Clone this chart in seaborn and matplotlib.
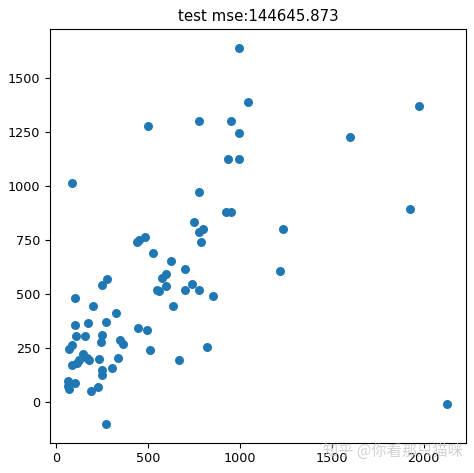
import numpy as np
import pandas as pd
import matplotlib.pyplot as plt
import seaborn as sns

# predictions vs. targets
y_true = [997, 1043, 1975, 500, 776, 950, 997, 1598, 937, 997,
          85, 776, 1924, 927, 950, 749, 800, 1237, 778, 788,
          443, 450, 482, 525, 623, 702, 599, 575, 1217, 277,
          249, 741, 600, 552, 562, 702, 779, 852, 102, 199,
          637, 326, 102, 176, 272, 446, 493, 108, 160, 248,
          243, 350, 365, 88, 72, 823, 511, 149, 168, 178,
          127, 113, 85, 236, 339, 671, 303, 249, 249, 67,
          103, 67, 72, 230, 189, 272, 2129]
y_pred = [1642, 1389, 1372, 1281, 1302, 1302, 1245, 1229, 1127, 1125,
          1015, 975, 895, 879, 879, 836, 800, 802, 788, 742,
          740, 752, 763, 692, 654, 617, 593, 574, 609, 569,
          543, 547, 537, 518, 514, 518, 518, 492, 481, 447,
          447, 414, 357, 366, 372, 344, 335, 307, 307, 313,
          278, 290, 268, 265, 245, 256, 244, 223, 205, 198,
          195, 180, 174, 200, 207, 194, 157, 148, 128, 98,
          91, 75, 60, 70, 54, -100, -6]
mse_text = "test mse:144645.873"

df = pd.DataFrame({"true": y_true, "pred": y_pred})

fig, ax = plt.subplots(figsize=(4.74, 4.73), dpi=100)
sns.scatterplot(data=df, x="true", y="pred", ax=ax, color="#1f77b4",
                s=42, linewidth=0)
ax.set_xlim(-33, 2231)
ax.set_ylim(-187, 1728)
ax.set_xticks([0, 500, 1000, 1500, 2000])
ax.set_yticks([0, 250, 500, 750, 1000, 1250, 1500])
ax.tick_params(labelsize=9.2)
ax.set_xlabel("")
ax.set_ylabel("")
ax.set_title(mse_text, fontsize=10.8)

# watermark
fig.text(0.83, 0.045, "知乎 @你看那只猫咪", ha="center", va="center",
         fontsize=11, color="#c8c8c8", alpha=0.8,
         family=["Noto Sans CJK SC", "DejaVu Sans"])

plt.subplots_adjust(left=0.1055, right=0.983, top=0.9387, bottom=0.064)
plt.savefig("out.png")
plt.close()
